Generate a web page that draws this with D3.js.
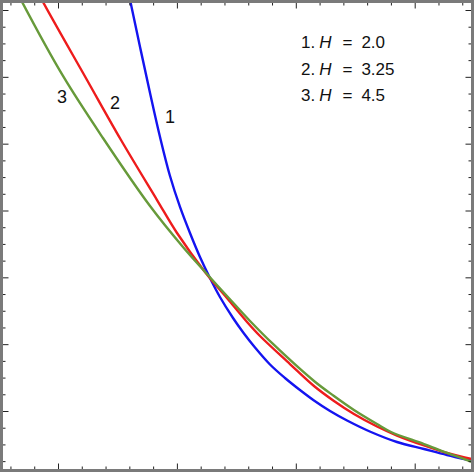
<!DOCTYPE html>
<html><head><meta charset="utf-8">
<script src="https://cdn.jsdelivr.net/npm/d3@7"></script>
<style>html,body{margin:0;padding:0;background:#fff;overflow:hidden}svg{display:block}</style>
</head><body>
<svg id="chart" width="474" height="472"></svg>
<script>
// ---- data (arbitrary units) ----
const xMajorTicks = [1, 2, 3, 4];
const xMinorTicks = [0.6, 0.8, 1.2, 1.4, 1.6, 1.8, 2.2, 2.4, 2.6, 2.8, 3.2, 3.4, 3.6, 3.8, 4.2, 4.4];
const yMajorTicks = [1, 2, 3, 4, 5, 6, 7];
const yMinorTicks = [0.25, 0.5, 0.75, 1.25, 1.5, 1.75, 2.25, 2.5, 2.75, 3.25, 3.5, 3.75, 4.25, 4.5, 4.75, 5.25, 5.5, 5.75, 6.25, 6.5, 6.75];

const curve1X = [1.555, 1.606, 1.690, 1.774, 1.858, 1.942, 2.026, 2.110, 2.194, 2.278, 2.362, 2.472, 2.564, 2.657, 2.783, 2.909, 3.035, 3.153, 3.288, 3.431, 3.632, 3.851, 4.078, 4.272, 4.474, 4.549];
const curve1Y = [7.569, 7.150, 6.447, 5.758, 5.100, 4.516, 4.053, 3.663, 3.304, 2.990, 2.706, 2.392, 2.160, 1.950, 1.696, 1.494, 1.314, 1.157, 1.000, 0.858, 0.686, 0.536, 0.431, 0.342, 0.259, 0.229];
const curve2X = [0.815, 0.865, 1.244, 1.530, 1.833, 2.001, 2.236, 2.421, 2.590, 2.699, 2.951, 3.153, 3.321, 3.489, 3.683, 3.851, 4.078, 4.272, 4.499];
const curve2Y = [7.330, 7.150, 5.953, 5.055, 4.157, 3.663, 3.080, 2.691, 2.332, 2.122, 1.703, 1.374, 1.150, 0.955, 0.768, 0.633, 0.484, 0.372, 0.274];
const curve3X = [0.638, 0.689, 1.042, 1.378, 1.774, 2.051, 2.253, 2.421, 2.615, 2.808, 3.153, 3.321, 3.489, 3.683, 3.801, 4.078, 4.272, 4.474];
const curve3Y = [7.330, 7.150, 6.013, 5.085, 4.067, 3.454, 3.050, 2.721, 2.347, 2.003, 1.449, 1.224, 1.015, 0.805, 0.686, 0.506, 0.372, 0.244];

const seriesNames = ["1", "2", "3"];
const seriesColors = ["#1414f0", "#ee1c1c", "#679a3a"];
const labelPos = [[1.900, 5.309], [1.437, 5.519], [0.992, 5.609]];   // data coords for curve number labels
const legendLines = [["1.", "H", "2.0"], ["2.", "H", "3.25"], ["3.", "H", "4.5"]];

// ---- drawing ----
const svg = d3.select("#chart");
const pLeft = 1.5, pRight = 472.5, pTop = 1.5, pBottom = 470.5;

const x = d3.scaleLinear().domain([1, 4]).range([58, 414.7]);
const y = d3.scaleLinear().domain([1, 7]).range([411, 10]);

svg.append("defs").append("clipPath").attr("id", "clip")
  .append("rect").attr("x", pLeft).attr("y", pTop).attr("width", pRight - pLeft).attr("height", pBottom - pTop);

const series = [
  curve1X.map((v, i) => [v, curve1Y[i]]),
  curve2X.map((v, i) => [v, curve2Y[i]]),
  curve3X.map((v, i) => [v, curve3Y[i]])
];

const line = d3.line().x(d => x(d[0])).y(d => y(d[1])).curve(d3.curveCatmullRom.alpha(0.5));

const g = svg.append("g").attr("clip-path", "url(#clip)");
[0, 1, 2].forEach(i => {
  g.append("path").datum(series[i])
    .attr("d", line).attr("fill", "none")
    .attr("stroke", seriesColors[i]).attr("stroke-width", 2.4)
    .attr("stroke-linejoin", "round").attr("stroke-linecap", "round");
});

// axes with inward ticks, no labels
function addAxis(gen, tr, ticks, size) {
  const a = svg.append("g").attr("transform", tr)
    .call(gen.tickValues(ticks).tickSize(size).tickFormat(""));
  a.select(".domain").remove();
  a.selectAll(".tick line").attr("stroke", "#222").attr("stroke-width", 1);
  return a;
}
addAxis(d3.axisBottom(x), `translate(0,${pBottom})`, xMajorTicks, -7);
addAxis(d3.axisBottom(x), `translate(0,${pBottom})`, xMinorTicks, -4);
addAxis(d3.axisTop(x), `translate(0,${pTop})`, xMajorTicks, -7);
addAxis(d3.axisTop(x), `translate(0,${pTop})`, xMinorTicks, -4);
addAxis(d3.axisLeft(y), `translate(${pLeft},0)`, yMajorTicks, -7);
addAxis(d3.axisLeft(y), `translate(${pLeft},0)`, yMinorTicks, -4);
addAxis(d3.axisRight(y), `translate(${pRight},0)`, yMajorTicks, -7);
addAxis(d3.axisRight(y), `translate(${pRight},0)`, yMinorTicks, -4);

// frame
svg.append("rect").attr("x", pLeft).attr("y", pTop).attr("width", pRight - pLeft).attr("height", pBottom - pTop)
  .attr("fill", "none").attr("stroke", "#7a7a7a").attr("stroke-width", 3);

// curve number labels
seriesNames.forEach((n, i) => {
  svg.append("text").attr("x", x(labelPos[i][0])).attr("y", y(labelPos[i][1]))
    .attr("font-family", "Liberation Sans, Arial, sans-serif").attr("font-size", 18)
    .attr("fill", "#111").text(n);
});

// legend text
const lg = svg.append("g").attr("font-family", "Liberation Sans, Arial, sans-serif").attr("font-size", 17).attr("fill", "#111");
legendLines.forEach((l, i) => {
  const t = lg.append("text").attr("x", 301).attr("y", 48 + i * 26.5);
  t.append("tspan").text(l[0]);
  t.append("tspan").attr("dx", 4).attr("font-style", "italic").text(l[1]);
  t.append("tspan").attr("dx", 11).text("=");
  t.append("tspan").attr("dx", 9).text(l[2]);
});
</script>
</body></html>
